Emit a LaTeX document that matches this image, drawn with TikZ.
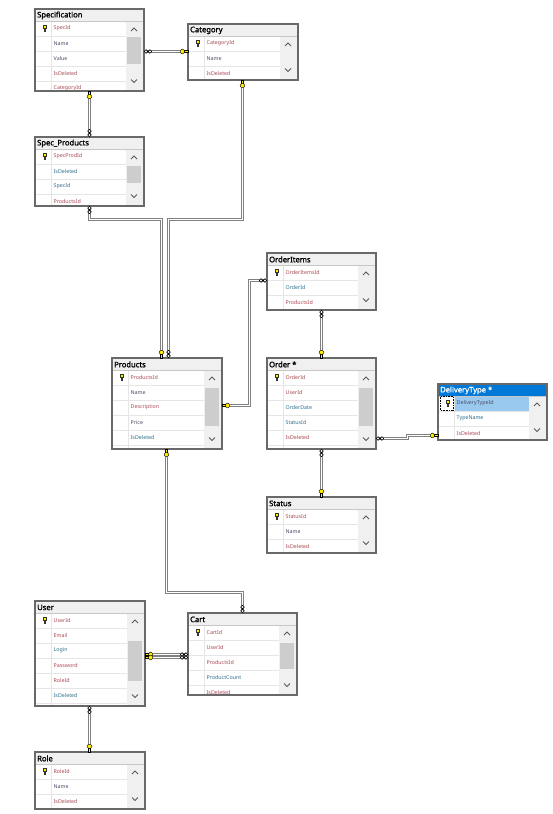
\documentclass[tikz,border=0pt]{standalone}
\usepackage{fontspec}
\setmainfont{Noto Sans}[AutoFakeBold=1.6]
\definecolor{bordercol}{RGB}{105,105,105}
\definecolor{titlebg}{RGB}{240,240,240}
\definecolor{sepcol}{RGB}{230,230,230}
\definecolor{scrollbg}{RGB}{240,240,240}
\definecolor{thumbcol}{RGB}{205,205,205}
\definecolor{chevcol}{RGB}{90,90,90}
\definecolor{conncol}{RGB}{128,128,128}
\definecolor{keyyellow}{RGB}{255,238,0}
\definecolor{rowred}{RGB}{168,72,82}
\definecolor{rowteal}{RGB}{45,110,140}
\definecolor{rowdark}{RGB}{75,75,105}
\definecolor{selblue}{RGB}{0,120,215}
\definecolor{selrowbg}{RGB}{153,201,239}
\tikzset{
  tbl/.style={rectangle, fill=white, inner sep=0pt, outer sep=0pt},
  ttl/.style={font=\fontsize{7.6}{8}\selectfont\bfseries, inner sep=0pt, anchor=west},
  titletext/.style={text=black},
  titlebar/.style={fill=titlebg},
  framecol/.style={draw=bordercol},
  rowtxt/.style={font=\fontsize{5.3}{6}\selectfont, inner sep=0pt, anchor=west},
  conn/.style={draw=conncol, line width=1pt, double=white, double distance=1pt},
  pics/keyend/.style={code={
    \filldraw[fill=keyyellow, draw=black, line width=0.4pt] (0,-1.1) rectangle (3.8,1.1);
    \filldraw[fill=keyyellow, draw=black, line width=0.4pt] (5.6,0) ellipse (2 and 2.4);
  }},
  pics/manyend/.style={code={
    \filldraw[fill=white, draw=black, line width=0.6pt] (2.1,0) circle (1.8) (5.9,0) circle (1.8);
  }},
  pics/rowkey/.style={code={
    \filldraw[fill=keyyellow, draw=black!80, line width=0.3pt] (-1.3,-2.9) rectangle (1.3,-0.6);
    \filldraw[fill=keyyellow, draw=black!80, line width=0.3pt] (-0.55,-0.6) rectangle (0.55,2.8);
  }},
}
\def\selrow{0}
% #1 name, #2 x, #3 y, #4 w, #5 h, #6 title, #7 rows, #8 #9 thumb
\newcommand{\dbtab}[9]{%
  \node[tbl, minimum width=#4pt, minimum height=#5pt, anchor=north west] (#1) at (#2,#3) {};
  \begin{scope}[shift={(#2,#3)}]
    \fill[titlebar] (0,0) rectangle (#4,12);
    \node[ttl, titletext] (#1-title) at (2,6.4) {#6};
    \fill[scrollbg] (#4-18,12) rectangle (#4,#5);
    \fill[thumbcol] (#4-17,#8) rectangle (#4-3,#9);
    \draw[chevcol, line width=0.8pt] (#4-13,22) -- (#4-10,19) -- (#4-7,22);
    \draw[chevcol, line width=0.8pt] (#4-13,#5-11.5) -- (#4-10,#5-8.5) -- (#4-7,#5-11.5);
    \begin{scope}
      \clip (1,12) rectangle (#4-18,#5-1);
      \foreach \rc/\rt [count=\i] in {#7} {
        \ifnum\i=\selrow \fill[selrowbg] (16,12+15*\i-15) rectangle (#4-18,12+15*\i); \fi
        \draw[sepcol, line width=0.8pt] (1,12+15*\i) -- (#4-18,12+15*\i);
        \node[rowtxt, text=\rc] (#1-r\i) at (18.5,4.5+15*\i) {\rt};
      }
      \draw[sepcol, line width=0.8pt] (16,12) -- (16,#5);
    \end{scope}
    \pic at (9.5,19.5) {rowkey};
    \draw[sepcol!70!gray, line width=0.6pt] (0,12) -- (#4,12);
    \draw[framecol, line width=1.2pt] (0,0) rectangle (#4,#5);
  \end{scope}}

\begin{document}
\begin{tikzpicture}[x=1pt, y=-1pt]
\useasboundingbox (0,0) rectangle (552,814);
\fill[white] (0,0) rectangle (552,814);

% tables
\dbtab{spec}{35}{9}{109}{82}{Specification}{rowred/SpecId, rowdark/Name, rowdark/Value, rowred/IsDeleted, rowred/CategoryId}{28}{55}
\dbtab{cat}{188}{24}{110}{56}{Category}{rowred/CategoryId, rowdark/Name, rowred/IsDeleted}{0}{0}
\dbtab{sp}{35}{137}{109}{69}{Spec\_Products}{rowred/SpecProdId, rowteal/IsDeleted, rowteal/SpecId, rowred/ProductsId}{29}{46}
\dbtab{oi}{267}{253}{109}{57}{OrderItems}{rowred/OrderItemsId, rowteal/OrderId, rowred/ProductsId}{0}{0}
\dbtab{prod}{112}{358}{110}{91}{Products}{rowred/ProductsId, rowdark/Name, rowred/Description, rowdark/Price, rowteal/IsDeleted}{29.5}{67.5}
\dbtab{order}{267}{358}{109}{91}{Order *}{rowred/OrderId, rowred/UserId, rowteal/OrderDate, rowteal/StatusId, rowred/IsDeleted}{29.5}{67.5}
\begin{scope}
  \def\selrow{1}
  \tikzset{titlebar/.style={fill=selblue}, titletext/.style={text=white}}
  \dbtab{dt}{438}{384}{109}{56}{DeliveryType *}{rowdark/DeliveryTypeId, rowteal/TypeName, rowred/IsDeleted}{0}{0}
  \draw[black, densely dotted, line width=0.6pt] ([shift={(2.5,12.5)}]dt.north west) rectangle ([shift={(15.5,26.5)}]dt.north west);
\end{scope}
\dbtab{status}{267}{497}{109}{56}{Status}{rowred/StatusId, rowdark/Name, rowred/IsDeleted}{0}{0}
\dbtab{user}{35}{601}{110}{105}{User}{rowred/UserId, rowred/Email, rowteal/Login, rowred/Password, rowred/RoleId, rowteal/IsDeleted}{39.5}{79.5}
\dbtab{cart}{188}{613}{109}{82}{Cart}{rowred/CartId, rowred/UserId, rowred/ProductsId, rowteal/ProductCount, rowred/IsDeleted}{29.5}{55.5}
\dbtab{role}{35}{752}{110}{57}{Role}{rowred/RoleId, rowdark/Name, rowred/IsDeleted}{0}{0}

% connectors
\draw[conn] (spec.east |- 0,51.5) -- (cat.west |- 0,51.5);
\draw[conn] (spec.south -| 89.5,0) -- (sp.north -| 89.5,0);
\draw[conn] (sp.south -| 89.5,0) -- (89.5,219.5) -- (161.5,219.5) -- (prod.north -| 161.5,0);
\draw[conn] (cat.south -| 242.5,0) -- (242.5,219.5) -- (168.5,219.5) -- (prod.north -| 168.5,0);
\draw[conn] (prod.east |- 0,405.5) -- (249.5,405.5) -- (249.5,280.5) -- (oi.west |- 0,280.5);
\draw[conn] (oi.south -| 321.5,0) -- (order.north -| 321.5,0);
\draw[conn] (order.south -| 321.5,0) -- (status.north -| 321.5,0);
\draw[conn] (order.east |- 0,438.5) -- (407.5,438.5) -- (407.5,435.5) -- (dt.west |- 0,435.5);
\draw[conn] (prod.south -| 166.5,0) -- (166.5,592.5) -- (242.5,592.5) -- (cart.north -| 242.5,0);
\draw[conn] (user.east |- 0,654.5) -- (cart.west |- 0,654.5);
\draw[conn] (user.east |- 0,657.5) -- (cart.west |- 0,657.5);
\draw[conn] (user.south -| 89.5,0) -- (role.north -| 89.5,0);

% relationship ends
\pic[rotate=0]   at (spec.east |- 0,51.5) {manyend};
\pic[rotate=180] at (cat.west |- 0,51.5) {keyend};
\pic[rotate=-90] at (spec.south -| 89.5,0) {keyend};
\pic[rotate=90]  at (sp.north -| 89.5,0) {manyend};
\pic[rotate=-90] at (sp.south -| 89.5,0) {manyend};
\pic[rotate=90]  at (prod.north -| 161.5,0) {keyend};
\pic[rotate=-90] at (cat.south -| 242.5,0) {keyend};
\pic[rotate=90]  at (prod.north -| 168.5,0) {manyend};
\pic[rotate=0]   at (prod.east |- 0,405.5) {keyend};
\pic[rotate=180] at (oi.west |- 0,280.5) {manyend};
\pic[rotate=-90] at (oi.south -| 321.5,0) {manyend};
\pic[rotate=90]  at (order.north -| 321.5,0) {keyend};
\pic[rotate=-90] at (order.south -| 321.5,0) {manyend};
\pic[rotate=90]  at (status.north -| 321.5,0) {keyend};
\pic[rotate=0]   at (order.east |- 0,438.5) {manyend};
\pic[rotate=180] at (dt.west |- 0,435.5) {keyend};
\pic[rotate=-90] at (prod.south -| 166.5,0) {keyend};
\pic[rotate=90]  at (cart.north -| 242.5,0) {manyend};
\pic[rotate=0]   at (user.east |- 0,654.5) {keyend};
\pic[rotate=0]   at (user.east |- 0,657.5) {keyend};
\pic[rotate=180] at (cart.west |- 0,654.5) {manyend};
\pic[rotate=180] at (cart.west |- 0,657.5) {manyend};
\pic[rotate=-90] at (user.south -| 89.5,0) {manyend};
\pic[rotate=90]  at (role.north -| 89.5,0) {keyend};
\end{tikzpicture}
\end{document}
